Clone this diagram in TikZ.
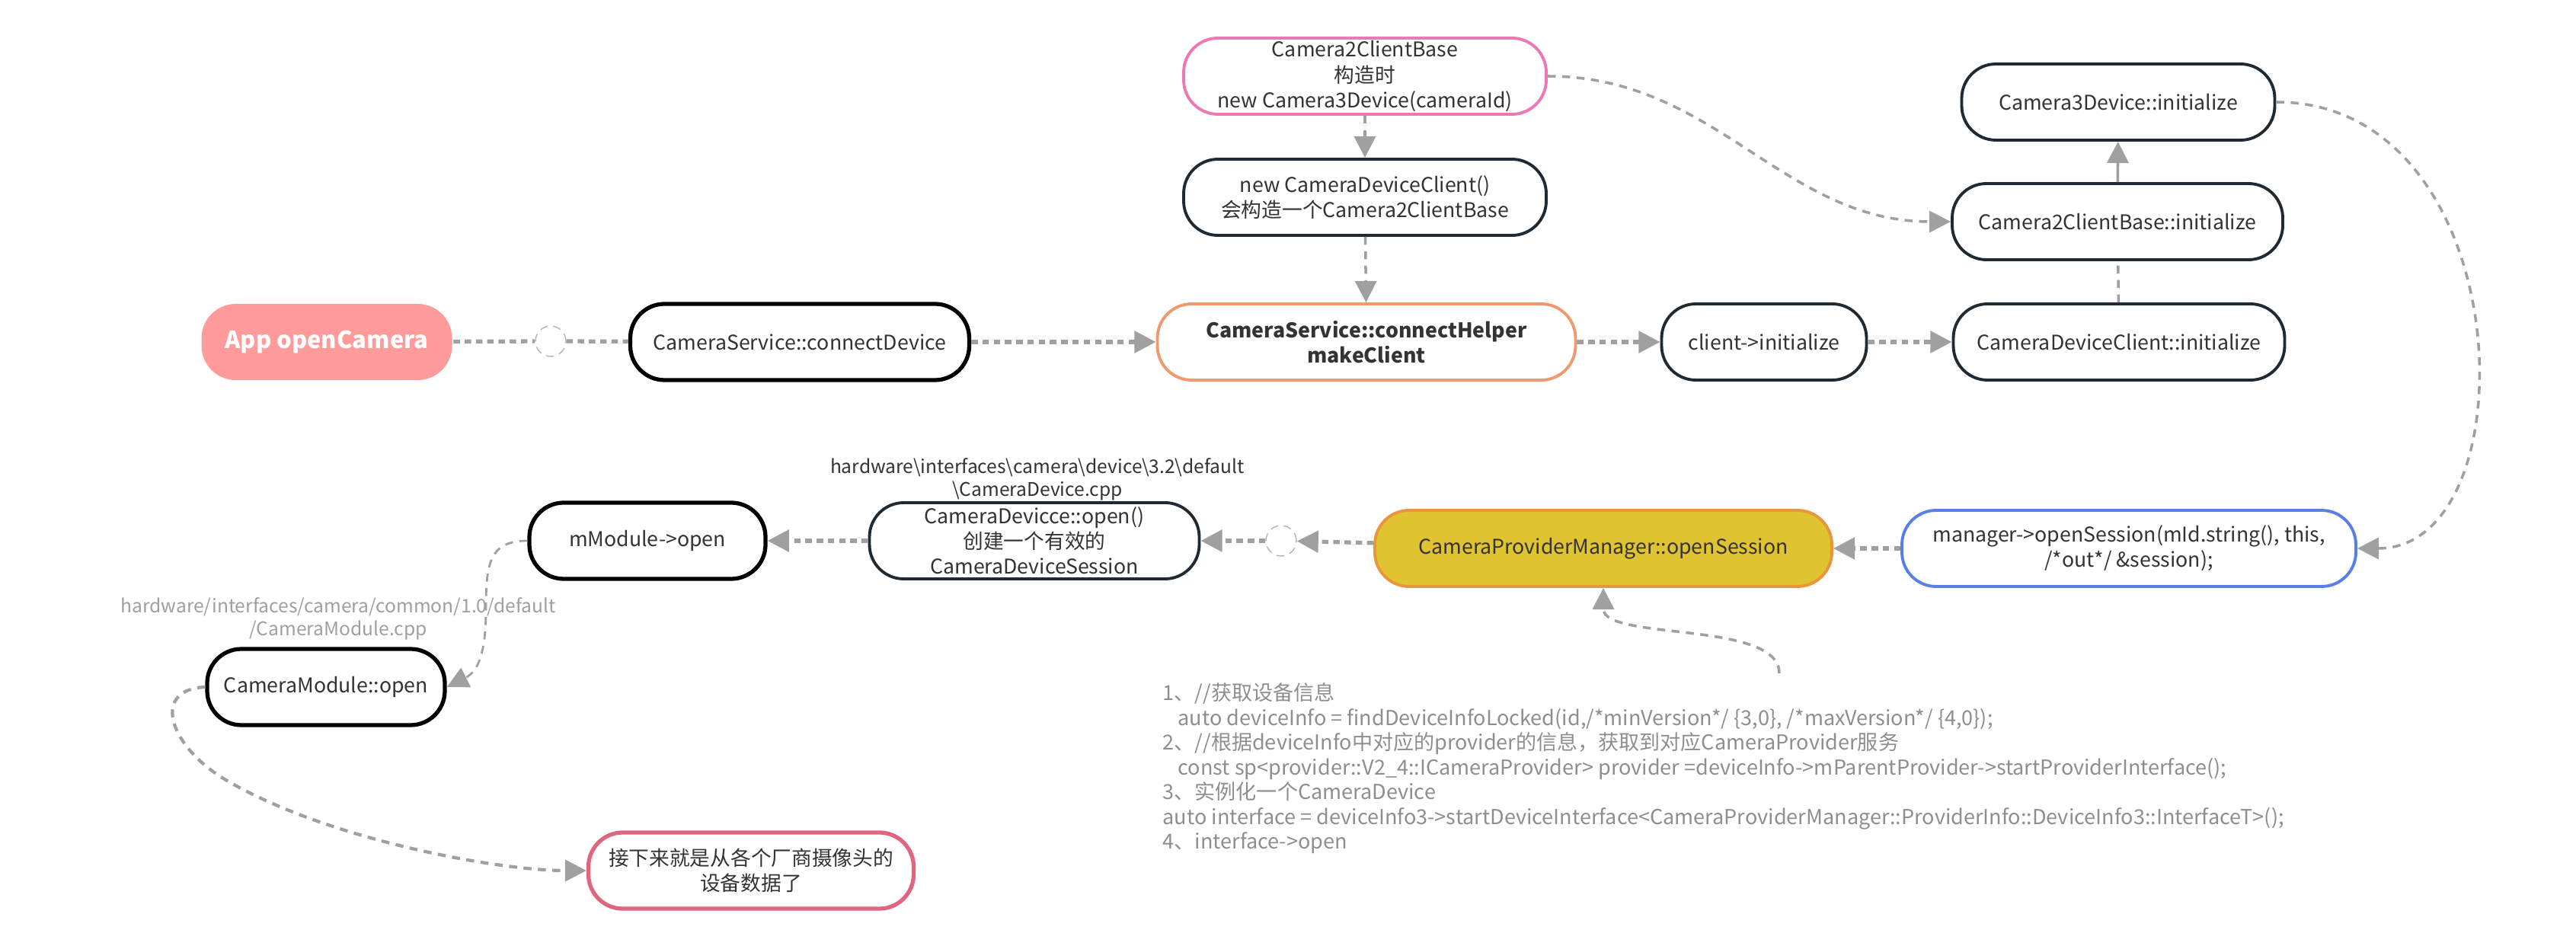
\documentclass[tikz,border=0pt]{standalone}
\usepackage{fontspec}
\setmainfont{Noto Sans CJK SC}
\usetikzlibrary{arrows.meta,positioning,calc}
\definecolor{ink}{HTML}{333333}
\definecolor{edgegray}{HTML}{A0A0A0}
\definecolor{boxline}{HTML}{1F2A33}
\definecolor{appred}{HTML}{FF9B9B}
\definecolor{helperorange}{HTML}{EE9A6E}
\definecolor{ctorpink}{HTML}{EE78B4}
\definecolor{mgrblue}{HTML}{5A7EE8}
\definecolor{cpmyellow}{HTML}{DFC331}
\definecolor{cpmorange}{HTML}{E8953C}
\definecolor{nextred}{HTML}{E0657F}
\definecolor{notegray}{HTML}{8E8E8E}
\tikzset{>={Triangle[length=8pt,width=8pt]}}
\newcommand{\bs}{\textbackslash}
\newcommand{\boxfont}{\fontsize{7.6}{9.4}\selectfont}

\begin{document}
\begin{tikzpicture}[box/.style={draw=boxline, line width=1.1pt, rounded corners=0.45cm, minimum height=1cm, align=center, text=ink, font=\boxfont, inner sep=1pt}, heavy/.style={box, draw=black, line width=1.5pt}, hole/.style={circle, draw=edgegray!80, dash pattern=on 3pt off 2pt, minimum size=0.4cm, inner sep=0pt}, flow/.style={draw=edgegray, line width=1.5pt, dash pattern=on 2.4pt off 1.8pt}, link/.style={draw=edgegray, line width=1pt, dash pattern=on 3pt off 2.4pt}, note/.style={align=center, font=\fontsize{7.0}{8.6}\selectfont, inner sep=0pt}]

    \useasboundingbox (0,0) rectangle (33.82,-12.42);

    % Upper row
    \node[box, draw=none, fill=appred, text=white, minimum width=3.29cm, font=\fontsize{8.8}{10}\selectfont\bfseries] (app) at (4.29,-4.49) {App openCamera};
    \node[hole] (circ1) at (7.23,-4.48) {};
    \node[heavy, minimum width=4.45cm] (connDev) at (10.50,-4.49) {CameraService::connectDevice};
    \node[box, draw=helperorange, minimum width=5.49cm, font=\boxfont\bfseries] (helper) at (17.94,-4.49) {CameraService::connectHelper\\makeClient};
    \node[box, minimum width=2.69cm] (clientInit) at (23.16,-4.49) {client->initialize};
    \node[box, minimum width=4.35cm] (cdcInit) at (27.82,-4.49) {CameraDeviceClient::initialize};
    \node[box, minimum width=4.34cm] (c2cbInit) at (27.80,-2.91) {Camera2ClientBase::initialize};
    \node[box, minimum width=4.11cm] (c3dInit) at (27.81,-1.34) {Camera3Device::initialize};
    \node[box, draw=ctorpink, minimum width=4.76cm] (ctor) at (17.92,-1.00) {Camera2ClientBase\\构造时\\new Camera3Device(cameraId)};
    \node[box, minimum width=4.76cm] (newCdc) at (17.92,-2.59) {new CameraDeviceClient()\\会构造一个Camera2ClientBase};

    % Lower row
    \node[box, draw=mgrblue, minimum width=5.96cm] (mgrOpen) at (27.95,-7.20) {manager->openSession(mId.string(), this,\\/*out*/ \&session);};
    \node[box, draw=cpmorange, fill=cpmyellow, minimum width=6.00cm] (cpmOpen) at (21.05,-7.20) {CameraProviderManager::openSession};
    \node[hole] (circ2) at (16.82,-7.10) {};
    \node[box, minimum width=4.33cm] (cdOpen) at (13.58,-7.10) {CameraDevicce::open()\\创建一个有效的\\CameraDeviceSession};
    \node[note, text=ink] (cdLabel) at (13.62,-6.29) {hardware\bs interfaces\bs camera\bs device\bs 3.2\bs default\\\bs CameraDevice.cpp};
    \node[heavy, minimum width=3.10cm] (mModOpen) at (8.50,-7.10) {mModule->open};
    \node[note, text=notegray!85] (cmLabel) at (4.44,-8.12) {hardware/interfaces/camera/common/1.0/default\\/CameraModule.cpp};
    \node[heavy, minimum width=3.12cm] (cmOpen) at (4.28,-9.02) {CameraModule::open};
    \node[box, draw=nextred, line width=1.5pt, minimum width=4.27cm] (next) at (9.86,-11.43) {接下来就是从各个厂商摄像头的\\设备数据了};

    % Notes
    \node[note, text=notegray, align=left, anchor=north west, font=\fontsize{7.7}{9.25}\selectfont] (code) at (15.26,-8.96) {1、//获取设备信息\\
\hspace*{0.2cm}auto deviceInfo = findDeviceInfoLocked(id,/*minVersion*/ \{3,0\}, /*maxVersion*/ \{4,0\});\\
2、//根据deviceInfo中对应的provider的信息，获取到对应CameraProvider服务\\
\hspace*{0.2cm}const sp<provider::V2\_4::ICameraProvider> provider =deviceInfo->mParentProvider->startProviderInterface();\\
3、实例化一个CameraDevice\\
auto interface = deviceInfo3->startDeviceInterface<CameraProviderManager::ProviderInfo::DeviceInfo3::InterfaceT>();\\
4、interface->open};
    \coordinate (codeTop) at (23.36,-8.84);

    % Connectors
    \draw[flow] (app) -- (circ1);
    \draw[flow] (circ1) -- (connDev);
    \draw[flow,->] (connDev) -- (helper);
    \draw[flow,->] (helper) -- (clientInit);
    \draw[flow,->] (clientInit) -- (cdcInit);
    \draw[link] (cdcInit) -- (c2cbInit);
    \draw[draw=edgegray, line width=1pt, ->] (c2cbInit) -- (c3dInit);
    \draw[link,->] (ctor) -- (newCdc);
    \draw[link,->] (newCdc) -- (helper);
    \draw[link,->] (ctor.east) to[out=0,in=180] (c2cbInit.west);
    \draw[link,->] (c3dInit.east) .. controls +(3.2,0) and +(2.3,0) .. (mgrOpen.east);
    \draw[flow,->] (mgrOpen) -- (cpmOpen);
    \draw[flow,->] (cpmOpen) -- (circ2);
    \draw[flow,->] (circ2) -- (cdOpen);
    \draw[flow,->] (cdOpen) -- (mModOpen);
    \draw[link,line width=0.8pt,->] (mModOpen.west) .. controls +(-0.5,0) and +(0,0.6) .. (6.38,-8.0) .. controls +(0,-0.6) and +(0.4,0.2) .. (cmOpen.east);
    \draw[link,line width=1.2pt,->] (cmOpen.west) .. controls (2.0,-9.05) and (2.2,-9.75) .. (2.9,-10.2) .. controls (4.2,-11.0) and (6.5,-11.43) .. (next.west);
    \draw[link,->] (codeTop) .. controls +(0,0.7) and +(0,-0.7) .. (cpmOpen.south);
\end{tikzpicture}
\end{document}
